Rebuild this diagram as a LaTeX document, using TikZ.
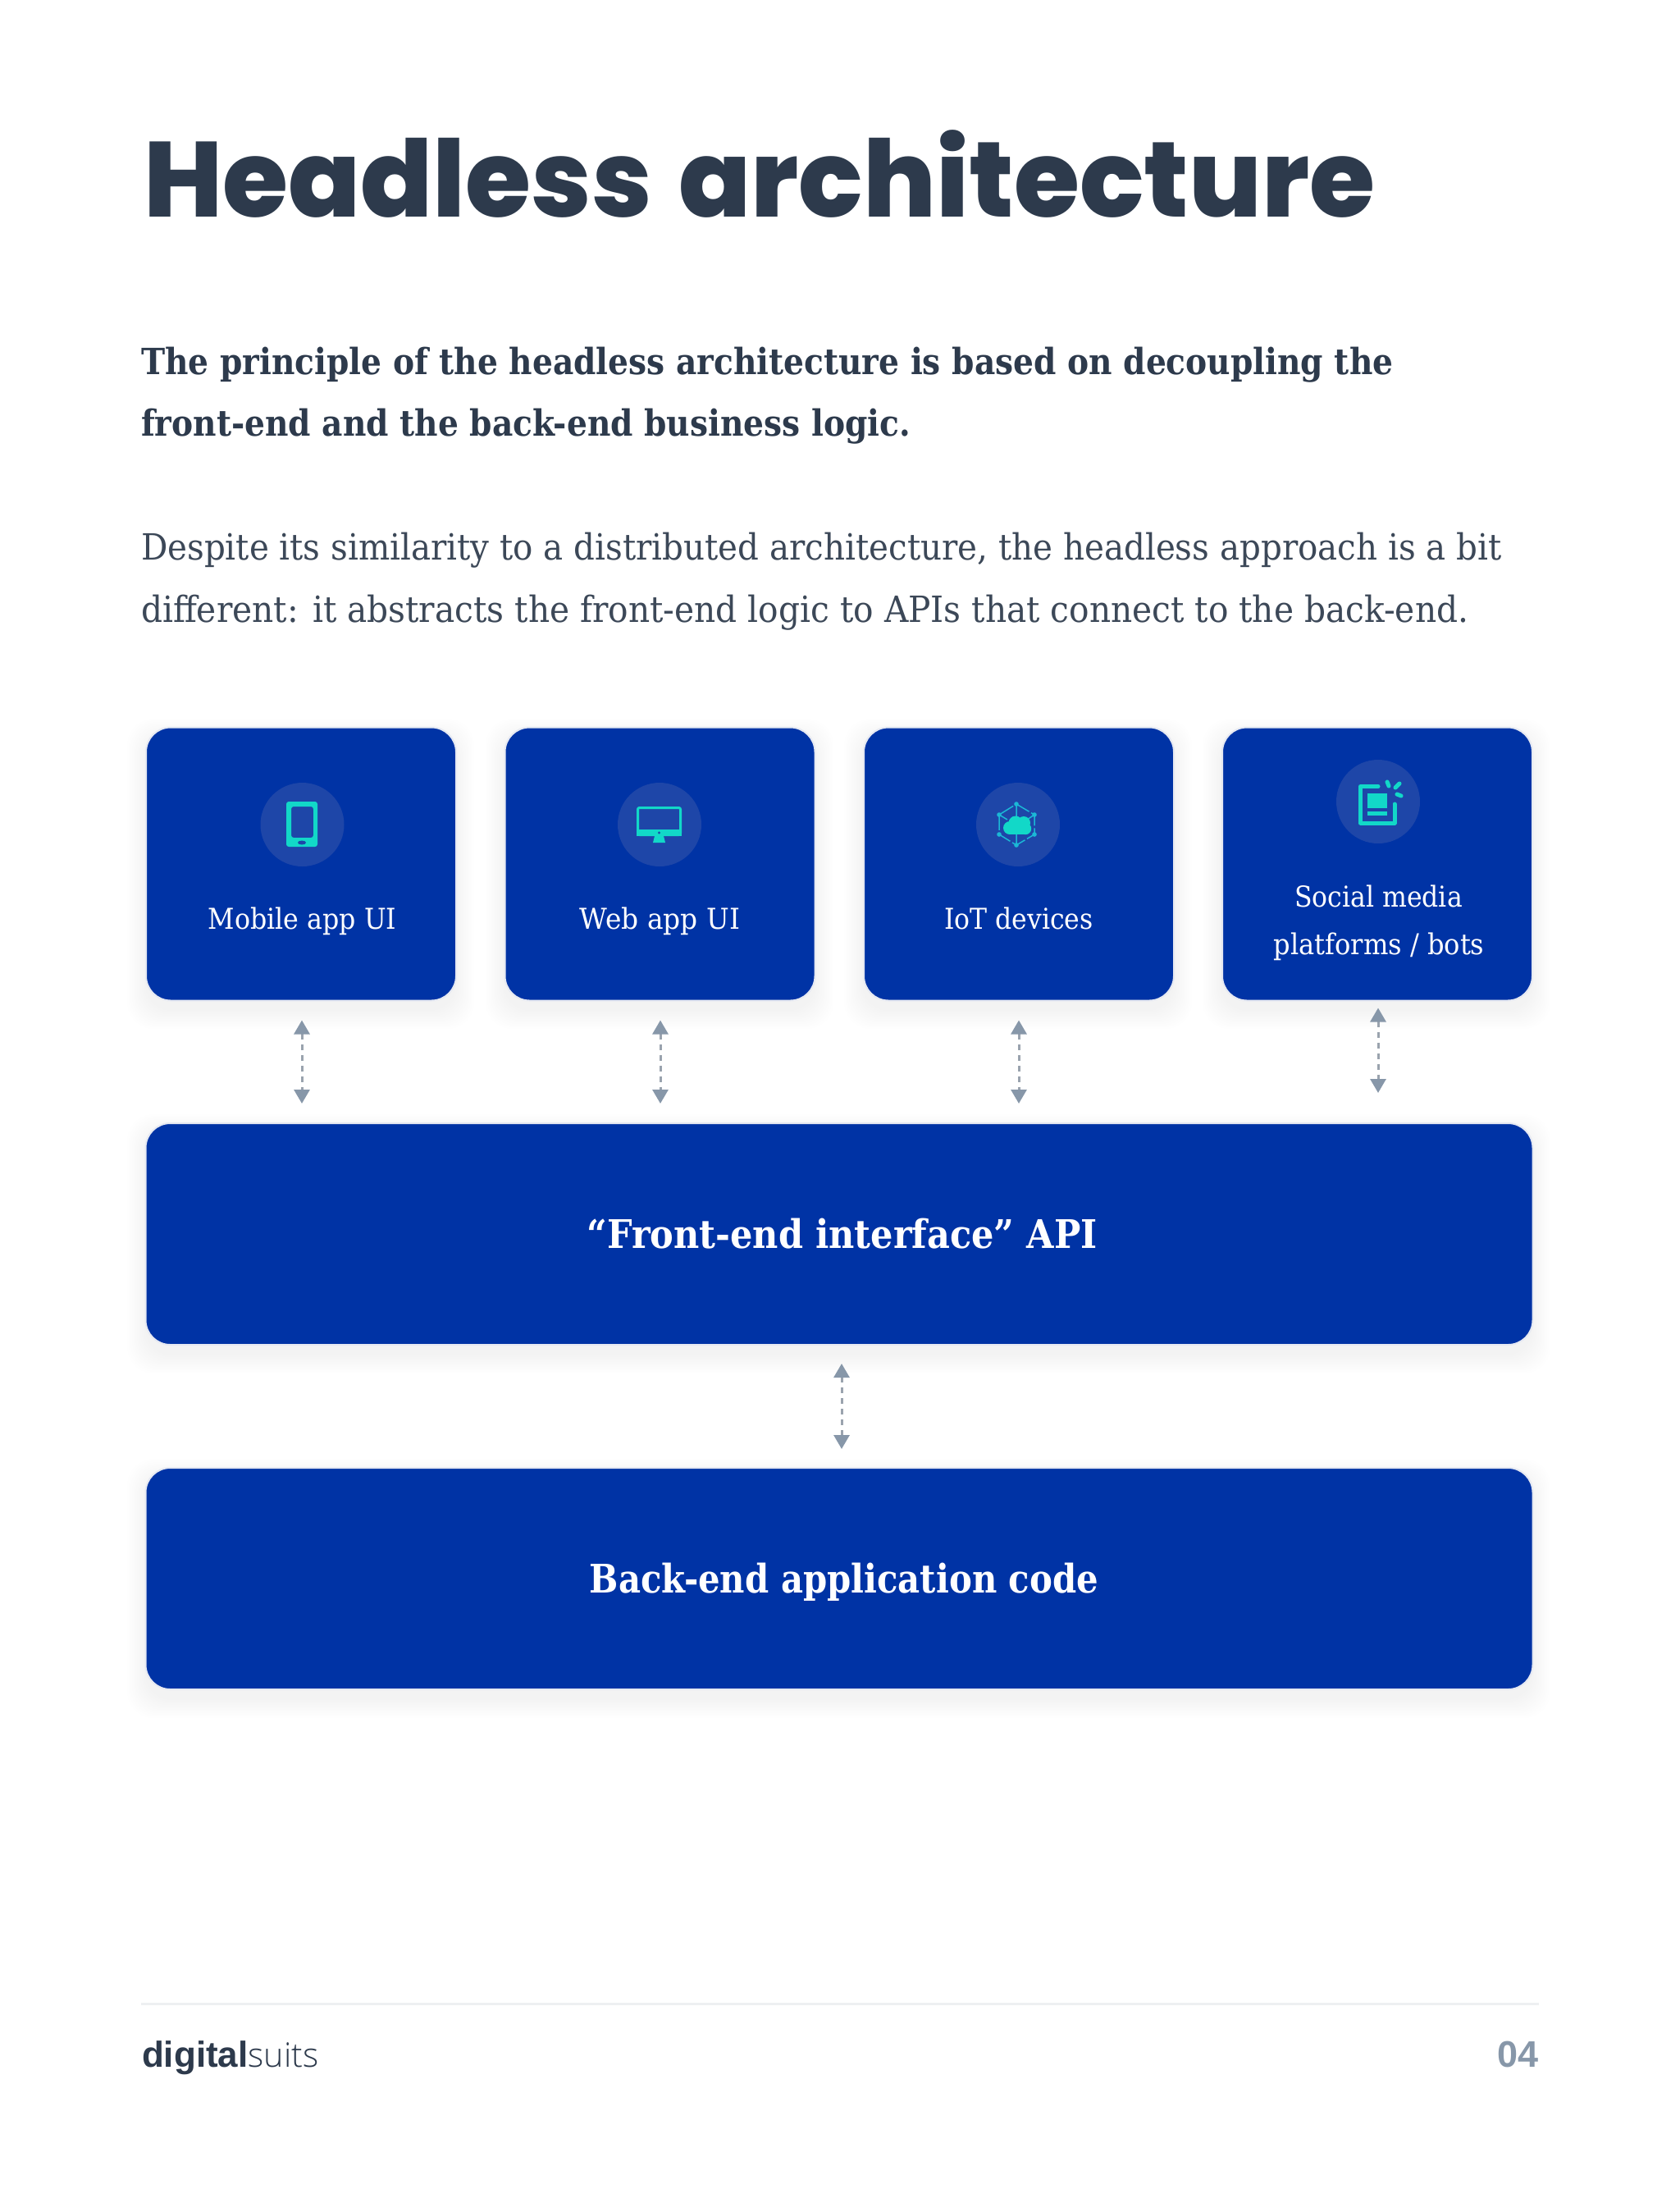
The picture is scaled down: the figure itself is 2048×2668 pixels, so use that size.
\documentclass[tikz,border=0pt]{standalone}
\usepackage{fontspec}
\usetikzlibrary{arrows.meta}
\newfontfamily\titlefont{Poppins}[UprightFont=* ExtraBold,BoldFont=* ExtraBold]
\newfontfamily\slabfont{DejaVu Serif}
\newfontfamily\footfont{Liberation Sans}
\newfontfamily\footlight{Open Sans Light}
\definecolor{ink}{HTML}{2D3A4C}
\definecolor{paragraph}{HTML}{3C4858}
\definecolor{cardblue}{HTML}{0033A5}
\definecolor{cardedge}{HTML}{E6E9F2}
\definecolor{halo}{HTML}{1E46A8}
\definecolor{teal}{HTML}{12D8C8}
\definecolor{iotline}{HTML}{1BB8D6}
\definecolor{tipgrey}{HTML}{8797A9}
\definecolor{dashgrey}{HTML}{9AA3AE}
\definecolor{rulegrey}{HTML}{EEF0F2}
\definecolor{shadowc}{HTML}{5A6A90}
\tikzset{
  x=0.5pt,y=-0.5pt,
  card/.style={fill=cardblue,draw=cardedge,line width=1pt,rounded corners=15pt,inner sep=0pt,minimum width=189pt,minimum height=166.5pt},
  wide/.style={card,minimum width=845.5pt,minimum height=135pt},
  iconhalo/.style={fill=halo,circle,inner sep=0pt,minimum size=51pt},
  txt/.style={anchor=base west,inner sep=0pt,outer sep=0pt},
  ctxt/.style={anchor=base,inner sep=0pt,outer sep=0pt},
  label/.style={ctxt,text=white,font=\slabfont\fontsize{17.5}{20}\selectfont},
  biglabel/.style={ctxt,text=white,font=\slabfont\bfseries\fontsize{24}{28}\selectfont},
  link/.style={draw=dashgrey,line width=1.5pt,dash pattern=on 3.5pt off 3pt,
    {Triangle[width=9.5pt,length=8.5pt,color=tipgrey]}-{Triangle[width=9.5pt,length=8.5pt,color=tipgrey]}},
  iconline/.style={draw=teal,line cap=round,line join=round},
}
\newcommand{\softshadow}[2]{%
  \foreach \k in {1,...,12}{%
    \fill[shadowc,opacity=0.0025,rounded corners=16pt]
      ([xshift=-\k*1pt,yshift=\k*1pt-6pt]#1) rectangle ([xshift=\k*1pt,yshift=-\k*1pt-6pt]#2);
  }}
\begin{document}
\begin{tikzpicture}
\useasboundingbox (0,0) rectangle (2048,2668);
\fill[white] (0,0) rectangle (2048,2668);
% shadows
\softshadow{179,888}{554,1218}
\softshadow{616,888}{992,1218}
\softshadow{1053,888}{1429,1218}
\softshadow{1490,888}{1866,1218}
\softshadow{179,1370}{1866,1638}
\softshadow{179,1790}{1866,2058}
% text
\node[txt,text=ink,font=\titlefont\fontsize{65}{70}\selectfont,xscale=0.998] (title) at (175,264) {Headless\hspace{4pt} architecture};
\node[txt,text=ink,font=\slabfont\bfseries\fontsize{22}{26}\selectfont,xscale=0.89] (sub1) at (172,456) {The principle of the headless architecture is based on decoupling the};
\node[txt,text=ink,font=\slabfont\bfseries\fontsize{22}{26}\selectfont,xscale=0.89] (sub2) at (172,531) {front-end and the back-end business logic.};
\node[txt,text=paragraph,font=\slabfont\fontsize{22}{26}\selectfont,xscale=0.918] (par1) at (172,682) {Despite its similarity to a distributed architecture, the headless approach is a bit};
\node[txt,text=paragraph,font=\slabfont\fontsize{22}{26}\selectfont,xscale=0.925] (par2) at (172,758) {different: it abstracts the front-end logic to APIs that connect to the back-end.};
% cards
\node[card] (mobile) at (367,1053) {};
\node[card] (web) at (804.5,1053) {};
\node[card] (iot) at (1242,1053) {};
\node[card] (social) at (1679,1053) {};
\node[wide] (api) at (1023,1504) {};
\node[wide] (backend) at (1023,1924) {};
% halos
\node[iconhalo] (h1) at (368.5,1005) {};
\node[iconhalo] (h2) at (804,1005) {};
\node[iconhalo] (h3) at (1241,1005) {};
\node[iconhalo] (h4) at (1680,977) {};
% phone
\fill[teal,rounded corners=1.5pt,even odd rule] (349,977) rectangle (387,1032) (355,983) rectangle (382,1021);
\fill[halo] (368,1027) ellipse (5 and 2.5);
% monitor
\draw[iconline,line width=1.5pt,line cap=butt,rounded corners=1pt] (777.5,984.5) rectangle (829.5,1017.5);
\fill[teal] (776,1011) rectangle (831,1019);
\fill[teal] (798,1019) -- (809,1019) -- (811,1027) -- (796,1027) -- cycle;
\fill[halo] (803.5,1015) circle (1.6);
% IoT
\draw[iotline,line width=0.75pt,dash pattern=on 9pt off 1.5pt] (1239,980) -- (1261,993) -- (1261,1017) -- (1239,1030) -- (1218,1017) -- (1218,993) -- cycle;
\draw[iotline,line width=0.75pt] (1239,980) -- (1239,995) (1239,1016) -- (1239,1030) (1218,993) -- (1228,999) (1261,993) -- (1252,999);
\foreach \px/\py in {1239/980,1261/993,1261/1017,1239/1030,1218/1017,1218/993}{\fill[iotline] (\px,\py) circle (2.8);}
\fill[teal] (1231,1009) circle (8) (1238,1003) circle (8.5) (1248,1003) circle (8) (1250,1010) circle (7.2);
\fill[teal] (1231,1017) rectangle (1250,1003);
% social
\draw[iconline,line width=2.5pt] (1680,958.5) -- (1658.5,958.5) -- (1658.5,1003) -- (1700,1003) -- (1700,980);
\fill[teal] (1667,967) rectangle (1691,985);
\fill[teal] (1667,989) rectangle (1691,994);
\draw[iconline,line width=2.5pt] (1691,953) -- (1693,958) (1706,955) -- (1701,960) (1703,968) -- (1708,970);
% labels
\node[label,xscale=0.905] (l1) at (368.5,1132) {Mobile app UI};
\node[label,xscale=0.94] (l2) at (804.5,1132) {Web app UI};
\node[label,xscale=0.9] (l3) at (1242,1132) {IoT devices};
\node[label,xscale=0.9] (l4a) at (1680.5,1105) {Social media};
\node[label,xscale=0.918] (l4b) at (1681,1163) {platforms / bots};
\node[biglabel,xscale=0.897] (apil) at (1026.5,1521) {“Front-end interface” API};
\node[biglabel,xscale=0.871] (backl) at (1029,1941) {Back-end application code};
% connectors
\draw[link,shorten >=11.5pt,shorten <=11.5pt] (mobile.south -| 368,0) -- (api.north -| 368,0);
\draw[link,shorten >=11.5pt,shorten <=11.5pt] (web.south -| 805,0) -- (api.north -| 805,0);
\draw[link,shorten >=11.5pt,shorten <=11.5pt] (iot.south -| 1242,0) -- (api.north -| 1242,0);
\draw[link,shorten >=18pt,shorten <=4pt] (social.south -| 1680,0) -- (api.north -| 1680,0);
\draw[link,shorten >=11pt,shorten <=11pt] (api.south -| 1026,0) -- (backend.north -| 1026,0);
% footer
\coordinate (fl) at (172,2442);
\coordinate (fr) at (1876,2442);
\draw[rulegrey,line width=1.5pt] (fl) -- (fr);
\node[txt,text=ink] (brand) at (173,2519) {\footfont\bfseries\fontsize{22}{26}\selectfont digital\footlight\mdseries\fontsize{20.6}{26}\selectfont suits};
\node[anchor=base east,inner sep=0pt,text=tipgrey,font=\footfont\bfseries\fontsize{22.5}{26}\selectfont] (pg) at (1876,2519) {04};
\end{tikzpicture}
\end{document}
